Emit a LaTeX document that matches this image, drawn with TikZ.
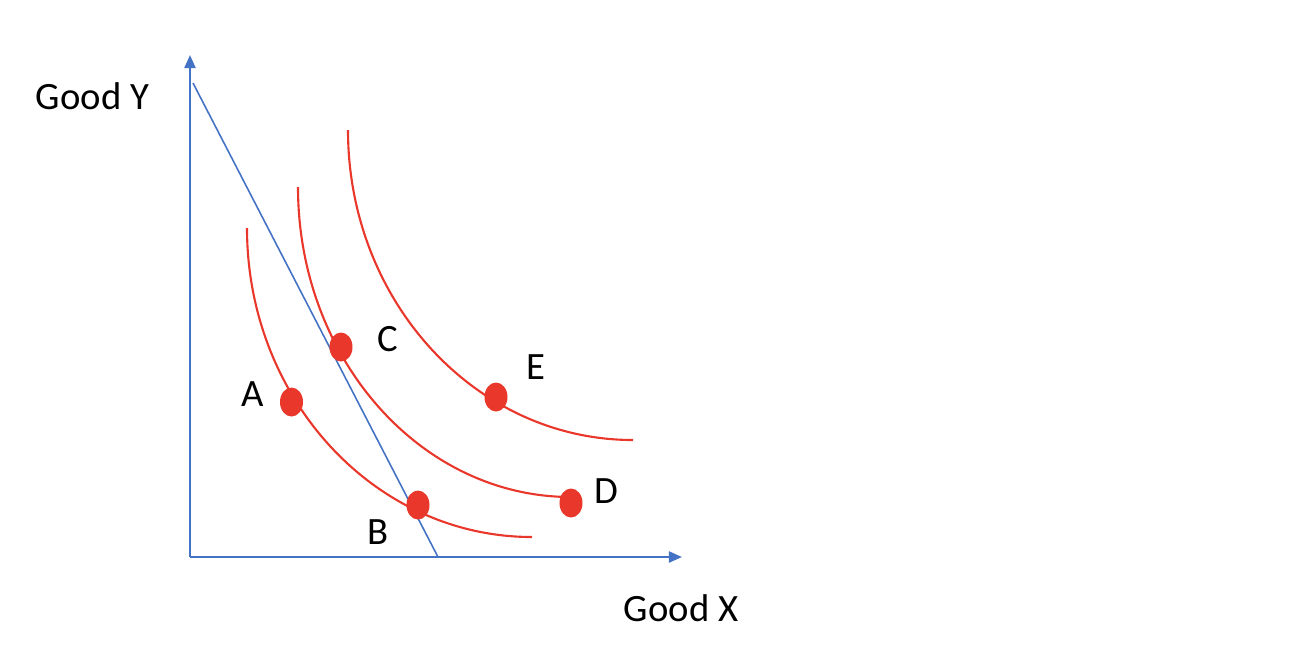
\documentclass[tikz,border=0pt]{standalone}
\usepackage{fontspec}
\setmainfont{Carlito}
\usetikzlibrary{shapes.geometric,arrows.meta}
\definecolor{axisblue}{RGB}{68,114,196}
\definecolor{icred}{RGB}{233,56,43}
\tikzset{
  axis/.style={draw=axisblue, line width=0.6pt, -{Triangle[length=0.13cm,width=0.11cm]}},
  budget/.style={draw=axisblue, line width=0.45pt},
  icurve/.style={draw=icred, line width=0.6pt},
  dot/.style={ellipse, fill=icred, draw=none, inner sep=0pt, minimum width=0.23cm, minimum height=0.29cm},
  lbl/.style={font=\fontsize{11pt}{13pt}\selectfont, inner sep=0pt, text=black}
}
\begin{document}
\begin{tikzpicture}[x=0.01cm,y=-0.01cm]
\useasboundingbox (0,0) rectangle (1302,650);
% axes
\coordinate (O) at (190,557);
\coordinate (Ytop) at (190,55);
\coordinate (Xend) at (682,557);
\draw[axis] (O) -- (Ytop);
\draw[axis] (O) -- (Xend);
% budget line
\coordinate (BL1) at (193,83);
\coordinate (BL2) at (438,557);
\draw[budget] (BL1) -- (BL2);
% indifference curves
\coordinate (c1s) at (247,228);
\coordinate (c1e) at (532,537);
\draw[icurve] (c1s) .. controls (247,398.7) and (374.6,537) .. (c1e);
\coordinate (c2s) at (298,187);
\coordinate (c2e) at (571,497);
\draw[icurve] (c2s) .. controls (298,358.2) and (420.2,497) .. (c2e);
\coordinate (c3s) at (348,130);
\coordinate (c3e) at (633,440);
\draw[icurve] (c3s) .. controls (348,301.2) and (475.6,440) .. (c3e);
% dots
\node[dot] (A) at (291.5,402) {};
\node[dot] (B) at (418,505) {};
\node[dot] (C) at (341,347) {};
\node[dot] (D) at (571,503) {};
\node[dot] (E) at (496,397) {};
% labels
\node[lbl] (lA) at (253,394) {A};
\node[lbl] (lB) at (378,532) {B};
\node[lbl] (lC) at (388,339) {C};
\node[lbl] (lD) at (606,491) {D};
\node[lbl] (lE) at (536,367) {E};
\node[lbl] (gy) at (92.5,96) {Good Y};
\node[lbl] (gx) at (681,608) {Good X};
\end{tikzpicture}
\end{document}
